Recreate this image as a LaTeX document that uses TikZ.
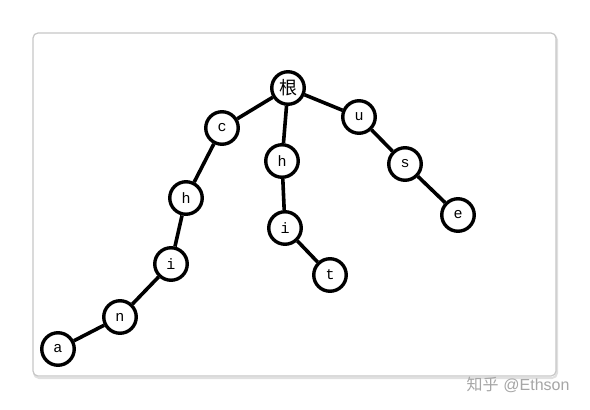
\documentclass[tikz,border=0pt]{standalone}
\usepackage{fontspec}
\setmonofont{Liberation Mono}
\newfontfamily\cjk{Noto Sans CJK SC}
\begin{document}
\begin{tikzpicture}[x=1pt,y=-1pt,
  tnode/.style={circle,draw=black,line width=3.4pt,fill=white,minimum size=32.5pt,inner sep=0pt,font=\ttfamily\fontsize{15}{15}\selectfont},
  edge/.style={line width=3.6pt}]
\useasboundingbox (0,0) rectangle (590,410);
\fill[white] (0,0) rectangle (590,410);
\draw[black!12,line width=2pt,rounded corners=5pt] (34,35) rectangle (557,378);
\draw[black!22,line width=1.2pt,rounded corners=5pt,fill=white] (33,33) rectangle (556,376);
\node[tnode,font=\cjk\fontsize{18}{18}\selectfont] (r) at (288,88) {根};
\node[tnode] (c) at (222,128) {c};
\node[tnode] (h1) at (186,198) {h};
\node[tnode] (i1) at (171,264) {i};
\node[tnode] (n) at (120,317) {n};
\node[tnode] (a) at (58,349) {a};
\node[tnode] (h2) at (282,161) {h};
\node[tnode] (i2) at (285,228) {i};
\node[tnode] (t) at (330,275) {t};
\node[tnode] (u) at (359,117) {u};
\node[tnode] (s) at (405,164) {s};
\node[tnode] (e) at (458,215) {e};
\draw[edge] (r) -- (c);
\draw[edge] (c) -- (h1);
\draw[edge] (h1) -- (i1);
\draw[edge] (i1) -- (n);
\draw[edge] (n) -- (a);
\draw[edge] (r) -- (h2);
\draw[edge] (h2) -- (i2);
\draw[edge] (i2) -- (t);
\draw[edge] (r) -- (u);
\draw[edge] (u) -- (s);
\draw[edge] (s) -- (e);
\node[text=black!35,font=\fontsize{16}{16}\selectfont,anchor=center] (wm) at (518,385) {{\cjk 知乎} \fontspec{Liberation Sans}@Ethson};
\end{tikzpicture}
\end{document}
